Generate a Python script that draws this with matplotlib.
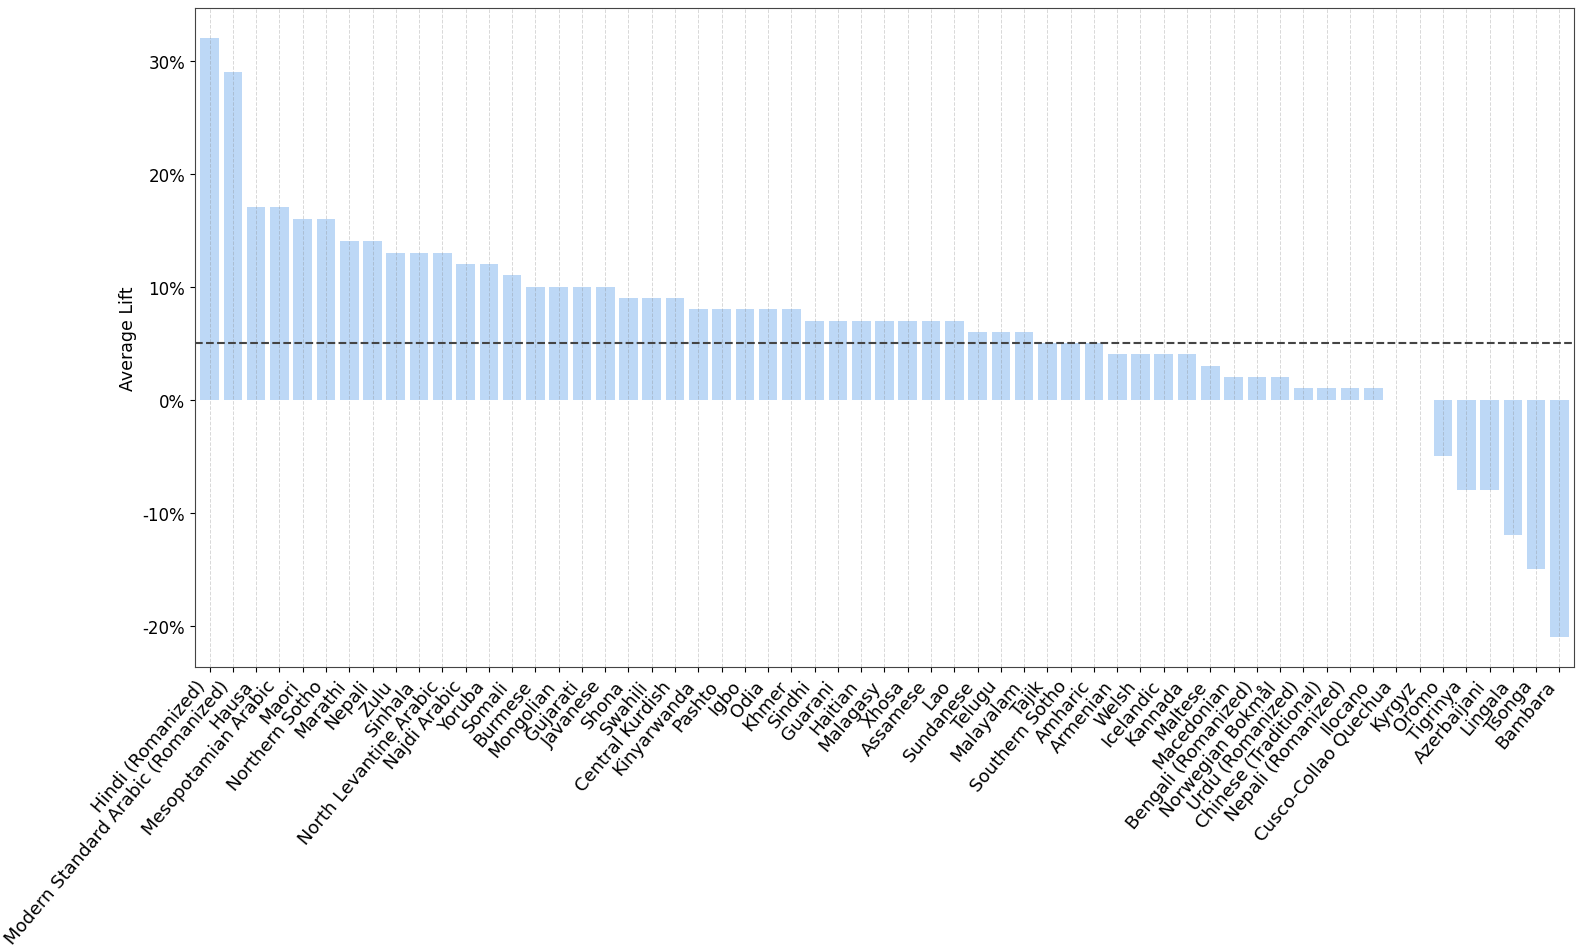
import numpy as np
import matplotlib
matplotlib.use("Agg")
import matplotlib.pyplot as plt
from matplotlib.ticker import FuncFormatter


# Languages sorted by average lift (values in percent)
languages = [
    "Hindi (Romanized)", "Modern Standard Arabic (Romanized)", "Hausa",
    "Mesopotamian Arabic", "Maori", "Northern Sotho", "Marathi", "Nepali",
    "Zulu", "Sinhala", "North Levantine Arabic", "Najdi Arabic", "Yoruba",
    "Somali", "Burmese", "Mongolian", "Gujarati", "Javanese", "Shona",
    "Swahili", "Central Kurdish", "Kinyarwanda", "Pashto", "Igbo", "Odia",
    "Khmer", "Sindhi", "Guarani", "Haitian", "Malagasy", "Xhosa", "Assamese",
    "Lao", "Sundanese", "Telugu", "Malayalam", "Tajik", "Southern Sotho",
    "Amharic", "Armenian", "Welsh", "Icelandic", "Kannada", "Maltese",
    "Macedonian", "Bengali (Romanized)", "Norwegian Bokmål",
    "Urdu (Romanized)", "Chinese (Traditional)", "Nepali (Romanized)",
    "Ilocano", "Cusco-Collao Quechua", "Kyrgyz", "Oromo", "Tigrinya",
    "Azerbaijani", "Lingala", "Tsonga", "Bambara",
]

lift = [
    32, 29, 17, 17, 16, 16, 14, 14, 13, 13, 13, 12, 12, 11, 10, 10, 10, 10,
    9, 9, 9, 8, 8, 8, 8, 8, 7, 7, 7, 7, 7, 7, 7, 6, 6, 6, 5, 5, 5, 4, 4, 4,
    4, 3, 2, 2, 2, 1, 1, 1, 1, 0, 0, -5, -8, -8, -12, -15, -21,
]

mean_lift = 5


fig = plt.figure(figsize=(15.81, 9.53), dpi=100)
ax = fig.add_subplot(111)
fig.subplots_adjust(left=0.1233, right=0.9956, top=0.9906, bottom=0.299)

x = np.arange(len(languages))
ax.bar(x, lift, width=0.8, color="#bdd8f6")

# Reference line at the mean
ax.axhline(mean_lift, color="#444444", linestyle="--", linewidth=1.5)

ax.set_xticks(x)
ax.set_xticklabels(languages, rotation=50, ha="right", fontsize=13)
ax.set_xlim(-0.63, len(languages) - 1 + 0.63)

ax.yaxis.set_major_formatter(FuncFormatter(lambda v, pos: f"{v:.0f}%"))
ax.tick_params(axis="y", labelsize=12)
ax.set_ylabel("Average Lift", fontsize=12.5)

# Light dashed vertical grid
ax.grid(axis="x", linestyle="--", color="gray", alpha=0.3, linewidth=0.7)

for s in ax.spines.values():
    s.set_color("#444444")

fig.savefig("out.png", dpi=100)
